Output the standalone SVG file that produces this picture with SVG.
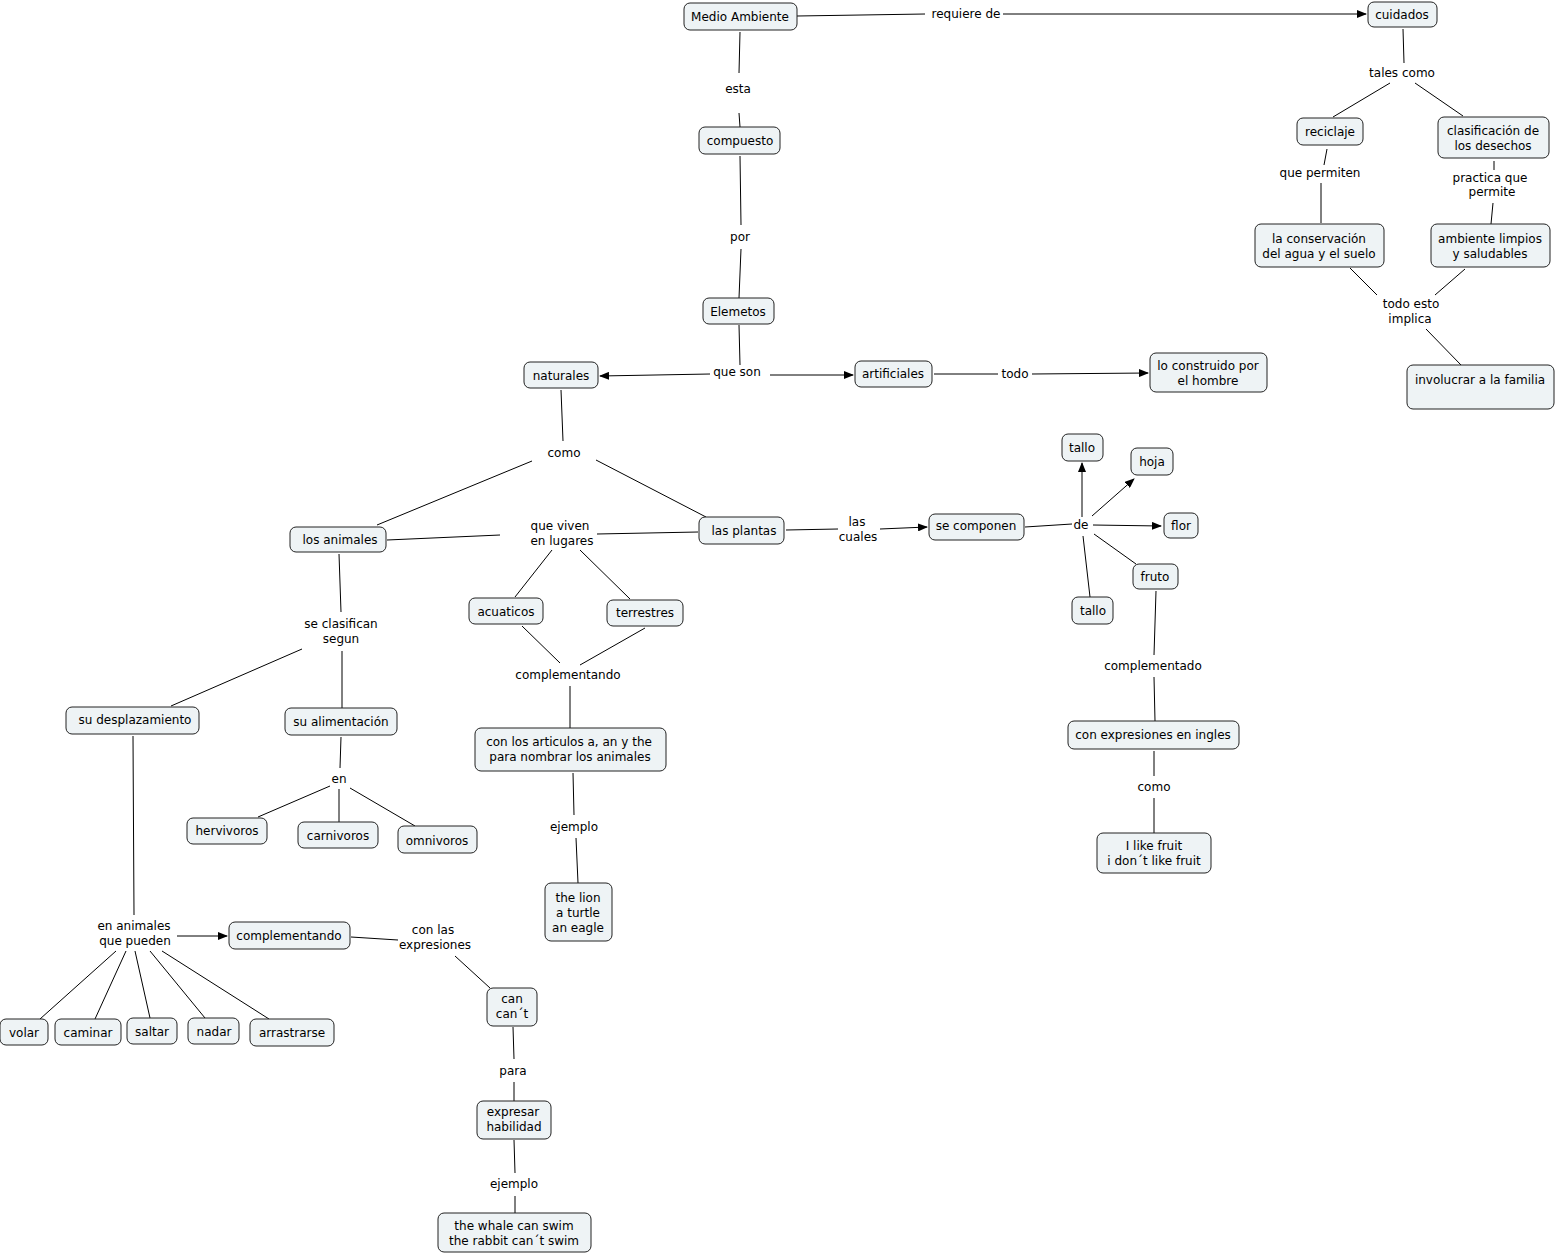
<svg xmlns="http://www.w3.org/2000/svg" width="1556" height="1255" viewBox="0 0 1556 1255">
<defs>
<marker id="ar" markerWidth="10" markerHeight="8" refX="9" refY="4" orient="auto" markerUnits="userSpaceOnUse"><path d="M0,0 L10,4 L0,8 Z" fill="#000"/></marker>
</defs>
<style>
.n rect{fill:#eef3f5;stroke:#222;stroke-width:1}
text{font-family:"DejaVu Sans",Verdana,sans-serif;font-size:12px;fill:#000;text-anchor:middle}
.c line{stroke:#000;stroke-width:1}
.c .a{marker-end:url(#ar)}
</style>
<rect width="1556" height="1255" fill="#fff"/>
<g class="c">
<line x1="797" y1="16" x2="925" y2="14"/><line class="a" x1="1003" y1="14" x2="1366" y2="14"/>
<line x1="740" y1="32" x2="739" y2="73"/><line x1="739" y1="113" x2="740" y2="127"/>
<line x1="740" y1="156" x2="741" y2="225"/><line x1="741" y1="249" x2="739" y2="298"/>
<line x1="739" y1="325" x2="740" y2="365"/>
<line class="a" x1="710" y1="374" x2="600" y2="376"/><line class="a" x1="770" y1="375" x2="853" y2="375"/>
<line x1="934" y1="374" x2="998" y2="374"/><line class="a" x1="1032" y1="374" x2="1148" y2="373"/>
<line x1="1403" y1="29" x2="1404" y2="63"/><line x1="1390" y1="83" x2="1333" y2="117"/><line x1="1415" y1="83" x2="1463" y2="116"/>
<line x1="1327" y1="149" x2="1324" y2="165"/><line x1="1321" y1="183" x2="1321" y2="223"/>
<line x1="1494" y1="161" x2="1494" y2="170"/><line x1="1493" y1="203" x2="1491" y2="224"/>
<line x1="1350" y1="268" x2="1377" y2="295"/><line x1="1465" y1="269" x2="1435" y2="295"/><line x1="1426" y1="329" x2="1461" y2="365"/>
<line x1="561" y1="390" x2="563" y2="441"/><line x1="532" y1="461" x2="377" y2="525"/><line x1="596" y1="460" x2="706" y2="517"/>
<line x1="387" y1="540" x2="500" y2="535"/><line x1="597" y1="534" x2="698" y2="532"/>
<line x1="552" y1="550" x2="515" y2="597"/><line x1="580" y1="550" x2="630" y2="599"/>
<line x1="786" y1="530" x2="838" y2="529"/><line class="a" x1="880" y1="529" x2="927" y2="527"/>
<line x1="1025" y1="527" x2="1072" y2="524"/>
<line class="a" x1="1082" y1="517" x2="1082" y2="463"/><line class="a" x1="1092" y1="516" x2="1134" y2="479"/>
<line class="a" x1="1093" y1="525" x2="1161" y2="526"/><line x1="1094" y1="534" x2="1136" y2="564"/><line x1="1083" y1="536" x2="1090" y2="597"/>
<line x1="1156" y1="591" x2="1154" y2="655"/><line x1="1154" y1="677" x2="1155" y2="721"/>
<line x1="1154" y1="751" x2="1154" y2="776"/><line x1="1154" y1="798" x2="1154" y2="833"/>
<line x1="522" y1="626" x2="560" y2="663"/><line x1="645" y1="628" x2="580" y2="665"/><line x1="570" y1="686" x2="570" y2="728"/>
<line x1="573" y1="773" x2="574" y2="815"/><line x1="576" y1="838" x2="578" y2="883"/>
<line x1="339" y1="554" x2="341" y2="612"/><line x1="302" y1="649" x2="171" y2="706"/><line x1="342" y1="651" x2="342" y2="708"/>
<line x1="341" y1="737" x2="340" y2="768"/><line x1="330" y1="786" x2="258" y2="817"/><line x1="339" y1="789" x2="339" y2="822"/><line x1="350" y1="788" x2="415" y2="826"/>
<line x1="133" y1="736" x2="134" y2="915"/><line class="a" x1="177" y1="936" x2="227" y2="936"/>
<line x1="116" y1="951" x2="40" y2="1019"/><line x1="126" y1="951" x2="95" y2="1019"/><line x1="135" y1="951" x2="150" y2="1018"/>
<line x1="150" y1="951" x2="205" y2="1018"/><line x1="162" y1="951" x2="269" y2="1019"/>
<line x1="351" y1="937" x2="398" y2="940"/><line x1="455" y1="956" x2="490" y2="988"/>
<line x1="513" y1="1027" x2="514" y2="1059"/><line x1="514" y1="1082" x2="514" y2="1101"/>
<line x1="514" y1="1140" x2="515" y2="1173"/><line x1="515" y1="1196" x2="515" y2="1213"/>
</g>
<g id="labels">
<text x="966" y="18">requiere de</text><text x="738" y="93">esta</text><text x="740" y="241">por</text>
<text x="737" y="376">que son</text><text x="1015" y="378">todo</text><text x="1402" y="77">tales como</text>
<text x="1320" y="177">que permiten</text><text x="1490" y="182">practica que</text><text x="1492" y="196">permite</text>
<text x="1411" y="308">todo esto</text><text x="1410" y="323">implica</text><text x="564" y="457">como</text>
<text x="560" y="530">que viven</text><text x="562" y="545">en lugares</text><text x="857" y="526">las</text><text x="858" y="541">cuales</text>
<text x="1081" y="529">de</text><text x="1153" y="670">complementado</text><text x="1154" y="791">como</text>
<text x="341" y="628">se clasifican</text><text x="341" y="643">segun</text><text x="339" y="783">en</text>
<text x="568" y="679">complementando</text><text x="574" y="831">ejemplo</text>
<text x="134" y="930">en animales</text><text x="135" y="945">que pueden</text><text x="433" y="934">con las</text><text x="435" y="949">expresiones</text>
<text x="513" y="1075">para</text><text x="514" y="1188">ejemplo</text>
</g>
<g id="n1" class="n"><rect x="684" y="3" width="113" height="27" rx="6"/><text x="740" y="21">Medio Ambiente</text></g>
<g id="n2" class="n"><rect x="1368" y="2" width="69" height="25" rx="6"/><text x="1402" y="19">cuidados</text></g>
<g id="n3" class="n"><rect x="699" y="127" width="81" height="27" rx="6"/><text x="740" y="145">compuesto</text></g>
<g id="n4" class="n"><rect x="703" y="298" width="71" height="26" rx="6"/><text x="738" y="316">Elemetos</text></g>
<g id="n5" class="n"><rect x="524" y="362" width="74" height="26" rx="6"/><text x="561" y="380">naturales</text></g>
<g id="n6" class="n"><rect x="855" y="361" width="77" height="26" rx="6"/><text x="893" y="378">artificiales</text></g>
<g id="n7" class="n"><rect x="1150" y="353" width="117" height="39" rx="6"/><text x="1208" y="370">lo construido por</text><text x="1208" y="385">el hombre</text></g>
<g id="n8" class="n"><rect x="1297" y="118" width="66" height="27" rx="6"/><text x="1330" y="136">reciclaje</text></g>
<g id="n9" class="n"><rect x="1438" y="117" width="111" height="41" rx="6"/><text x="1493" y="135">clasificación de</text><text x="1493" y="150">los desechos</text></g>
<g id="n10" class="n"><rect x="1255" y="224" width="129" height="43" rx="6"/><text x="1319" y="243">la conservación</text><text x="1319" y="258">del agua y el suelo</text></g>
<g id="n11" class="n"><rect x="1431" y="224" width="119" height="43" rx="6"/><text x="1490" y="243">ambiente limpios</text><text x="1490" y="258">y saludables</text></g>
<g id="n12" class="n"><rect x="1407" y="365" width="147" height="44" rx="6"/><text x="1480" y="384">involucrar a la familia</text></g>
<g id="n13" class="n"><rect x="290" y="527" width="96" height="25" rx="6"/><text x="340" y="544">los animales</text></g>
<g id="n14" class="n"><rect x="699" y="517" width="85" height="27" rx="6"/><text x="744" y="535">las plantas</text></g>
<g id="n15" class="n"><rect x="929" y="514" width="95" height="26" rx="6"/><text x="976" y="530">se componen</text></g>
<g id="n16" class="n"><rect x="1062" y="434" width="41" height="27" rx="6"/><text x="1082" y="452">tallo</text></g>
<g id="n17" class="n"><rect x="1131" y="448" width="42" height="27" rx="6"/><text x="1152" y="466">hoja</text></g>
<g id="n18" class="n"><rect x="1164" y="513" width="34" height="25" rx="6"/><text x="1181" y="530">flor</text></g>
<g id="n19" class="n"><rect x="1133" y="564" width="45" height="25" rx="6"/><text x="1155" y="581">fruto</text></g>
<g id="n20" class="n"><rect x="1072" y="597" width="41" height="27" rx="6"/><text x="1093" y="615">tallo</text></g>
<g id="n21" class="n"><rect x="469" y="598" width="74" height="26" rx="6"/><text x="506" y="616">acuaticos</text></g>
<g id="n22" class="n"><rect x="607" y="600" width="76" height="26" rx="6"/><text x="645" y="617">terrestres</text></g>
<g id="n23" class="n"><rect x="475" y="728" width="191" height="43" rx="6"/><text x="569" y="746">con los articulos a, an  y the</text><text x="570" y="761">para nombrar los animales</text></g>
<g id="n24" class="n"><rect x="545" y="883" width="67" height="58" rx="6"/><text x="578" y="902">the lion</text><text x="578" y="917">a turtle</text><text x="578" y="932">an eagle</text></g>
<g id="n25" class="n"><rect x="66" y="707" width="133" height="27" rx="6"/><text x="135" y="724">su desplazamiento</text></g>
<g id="n26" class="n"><rect x="285" y="708" width="112" height="27" rx="6"/><text x="341" y="726">su alimentación</text></g>
<g id="n27" class="n"><rect x="187" y="818" width="80" height="26" rx="6"/><text x="227" y="835">hervivoros</text></g>
<g id="n28" class="n"><rect x="298" y="822" width="80" height="26" rx="6"/><text x="338" y="840">carnivoros</text></g>
<g id="n29" class="n"><rect x="398" y="826" width="79" height="27" rx="6"/><text x="437" y="845">omnivoros</text></g>
<g id="n30" class="n"><rect x="229" y="922" width="121" height="27" rx="6"/><text x="289" y="940">complementando</text></g>
<g id="n31" class="n"><rect x="0" y="1019" width="48" height="26" rx="6"/><text x="24" y="1037">volar</text></g>
<g id="n32" class="n"><rect x="55" y="1019" width="66" height="26" rx="6"/><text x="88" y="1037">caminar</text></g>
<g id="n33" class="n"><rect x="127" y="1018" width="50" height="26" rx="6"/><text x="152" y="1036">saltar</text></g>
<g id="n34" class="n"><rect x="188" y="1018" width="51" height="26" rx="6"/><text x="214" y="1036">nadar</text></g>
<g id="n35" class="n"><rect x="250" y="1019" width="84" height="27" rx="6"/><text x="292" y="1037">arrastrarse</text></g>
<g id="n36" class="n"><rect x="487" y="988" width="50" height="38" rx="6"/><text x="512" y="1003">can</text><text x="512" y="1018">can´t</text></g>
<g id="n37" class="n"><rect x="477" y="1101" width="74" height="38" rx="6"/><text x="513" y="1116">expresar</text><text x="514" y="1131">habilidad</text></g>
<g id="n38" class="n"><rect x="438" y="1213" width="153" height="39" rx="6"/><text x="514" y="1230">the whale can swim</text><text x="514" y="1245">the  rabbit can´t swim</text></g>
<g id="n39" class="n"><rect x="1068" y="721" width="171" height="28" rx="6"/><text x="1153" y="739">con expresiones en ingles</text></g>
<g id="n40" class="n"><rect x="1097" y="833" width="114" height="40" rx="6"/><text x="1154" y="850">I like fruit</text><text x="1154" y="865">i don´t like fruit</text></g>
</svg>
